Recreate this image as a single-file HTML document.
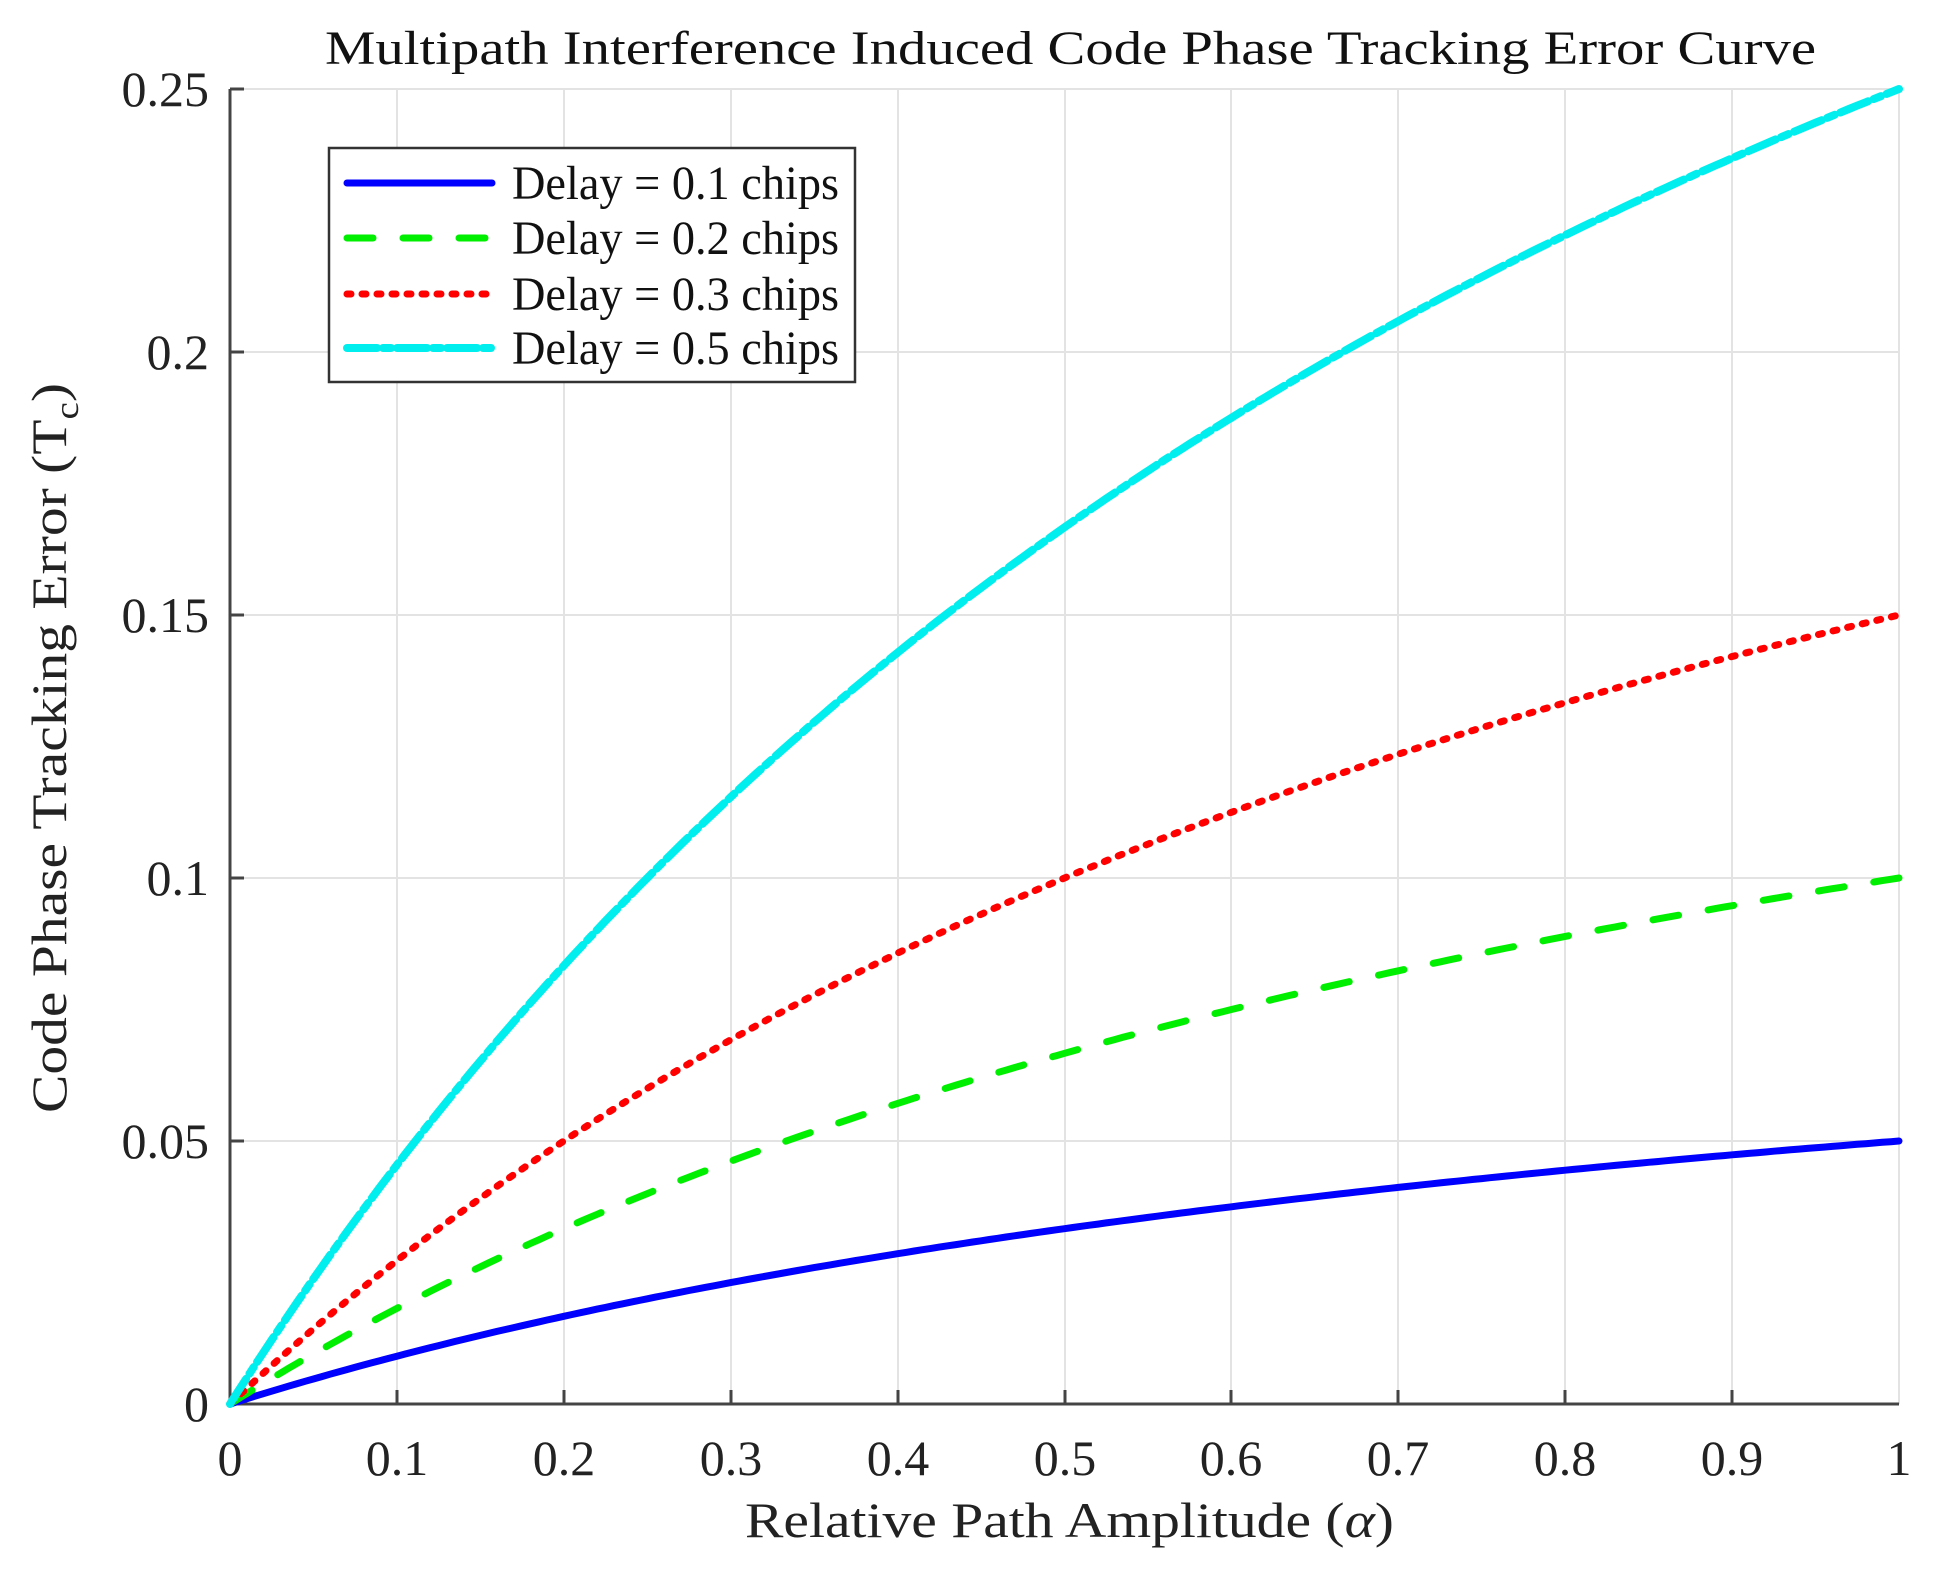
<!DOCTYPE html>
<html><head><meta charset="utf-8"><style>body{margin:0;background:#fff}svg{display:block}</style></head><body>
<svg width="1938" height="1582" xmlns="http://www.w3.org/2000/svg" font-family="Liberation Serif, serif">
<rect width="1938" height="1582" fill="#fff"/>
<g stroke="#e3e3e3" stroke-width="2">
<line x1="397" y1="89" x2="397" y2="1404"/><line x1="564" y1="89" x2="564" y2="1404"/><line x1="731" y1="89" x2="731" y2="1404"/><line x1="898" y1="89" x2="898" y2="1404"/><line x1="1065" y1="89" x2="1065" y2="1404"/><line x1="1231" y1="89" x2="1231" y2="1404"/><line x1="1398" y1="89" x2="1398" y2="1404"/><line x1="1565" y1="89" x2="1565" y2="1404"/><line x1="1732" y1="89" x2="1732" y2="1404"/><line x1="1899" y1="89" x2="1899" y2="1404"/>
<line x1="230" y1="89" x2="1899" y2="89"/><line x1="230" y1="352" x2="1899" y2="352"/><line x1="230" y1="615" x2="1899" y2="615"/><line x1="230" y1="878" x2="1899" y2="878"/><line x1="230" y1="1141" x2="1899" y2="1141"/>
</g>
<g stroke="#444" stroke-width="3">
<line x1="230" y1="89" x2="230" y2="1404"/><line x1="230" y1="1404" x2="1899" y2="1404"/>
<line x1="397" y1="1404" x2="397" y2="1390"/><line x1="564" y1="1404" x2="564" y2="1390"/><line x1="731" y1="1404" x2="731" y2="1390"/><line x1="898" y1="1404" x2="898" y2="1390"/><line x1="1065" y1="1404" x2="1065" y2="1390"/><line x1="1231" y1="1404" x2="1231" y2="1390"/><line x1="1398" y1="1404" x2="1398" y2="1390"/><line x1="1565" y1="1404" x2="1565" y2="1390"/><line x1="1732" y1="1404" x2="1732" y2="1390"/>
<line x1="230" y1="89" x2="244" y2="89"/><line x1="230" y1="352" x2="244" y2="352"/><line x1="230" y1="615" x2="244" y2="615"/><line x1="230" y1="878" x2="244" y2="878"/><line x1="230" y1="1141" x2="244" y2="1141"/>
</g>
<g font-size="50" fill="#222" text-anchor="middle">
<text x="230" y="1475">0</text><text x="397" y="1475">0.1</text><text x="564" y="1475">0.2</text><text x="731" y="1475">0.3</text><text x="898" y="1475">0.4</text><text x="1065" y="1475">0.5</text><text x="1231" y="1475">0.6</text><text x="1398" y="1475">0.7</text><text x="1565" y="1475">0.8</text><text x="1732" y="1475">0.9</text><text x="1899" y="1475">1</text>
</g>
<g font-size="50" fill="#222" text-anchor="end">
<text x="209" y="1421">0</text><text x="209" y="1158">0.05</text><text x="209" y="895">0.1</text><text x="209" y="632">0.15</text><text x="209" y="369">0.2</text><text x="209" y="106">0.25</text>
</g>
<text x="325" y="64" font-size="48" fill="#111" textLength="1491" lengthAdjust="spacingAndGlyphs">Multipath Interference Induced Code Phase Tracking Error Curve</text>
<text x="745" y="1537" font-size="50" fill="#222" textLength="649" lengthAdjust="spacingAndGlyphs">Relative Path Amplitude (<tspan font-style="italic">α</tspan>)</text>
<text transform="translate(66,1113) rotate(-90)" font-size="50" fill="#222" textLength="730" lengthAdjust="spacingAndGlyphs">Code Phase Tracking Error (T<tspan font-size="34" dy="12">c</tspan><tspan dy="-12">)</tspan></text>
<g fill="none" stroke-width="7" stroke-linecap="round">
<path id="c1" stroke="#0000ff" d=""/>
<path id="c2" stroke="#00ee00" stroke-dasharray="26 30" d=""/>
<path id="c3" stroke="#ff0000" stroke-dasharray="4 11" d=""/>
<path id="c5" stroke="#00eeee" stroke-width="8" stroke-dasharray="30 6 8 6" d=""/>
</g>
<rect x="329" y="148" width="526" height="234" fill="#fff" stroke="#333" stroke-width="2.5"/>
<g stroke-width="7" stroke-linecap="round">
<line x1="347" y1="183" x2="492" y2="183" stroke="#0000ff"/>
<line x1="347" y1="238" x2="492" y2="238" stroke="#00ee00" stroke-dasharray="26 30"/>
<line x1="347" y1="294" x2="492" y2="294" stroke="#ff0000" stroke-dasharray="4 11"/>
<line x1="347" y1="348" x2="492" y2="348" stroke="#00eeee" stroke-width="8" stroke-dasharray="30 6 8 6"/>
</g>
<g font-size="48" fill="#111">
<text x="512" y="199" textLength="327" lengthAdjust="spacingAndGlyphs">Delay = 0.1 chips</text>
<text x="512" y="254" textLength="327" lengthAdjust="spacingAndGlyphs">Delay = 0.2 chips</text>
<text x="512" y="310" textLength="327" lengthAdjust="spacingAndGlyphs">Delay = 0.3 chips</text>
<text x="512" y="364" textLength="327" lengthAdjust="spacingAndGlyphs">Delay = 0.5 chips</text>
</g>
<script>
[["c1",0.1],["c2",0.2],["c3",0.3],["c5",0.5]].forEach(function(p){
var d="";for(var i=0;i<=200;i++){var a=i/200,e=p[1]*a/(1+a);
var x=230+a*1669,y=1404-e/0.25*1315;d+=(i?"L":"M")+x.toFixed(1)+" "+y.toFixed(1);}
document.getElementById(p[0]).setAttribute("d",d);});
</script>
</svg>
</body></html>
